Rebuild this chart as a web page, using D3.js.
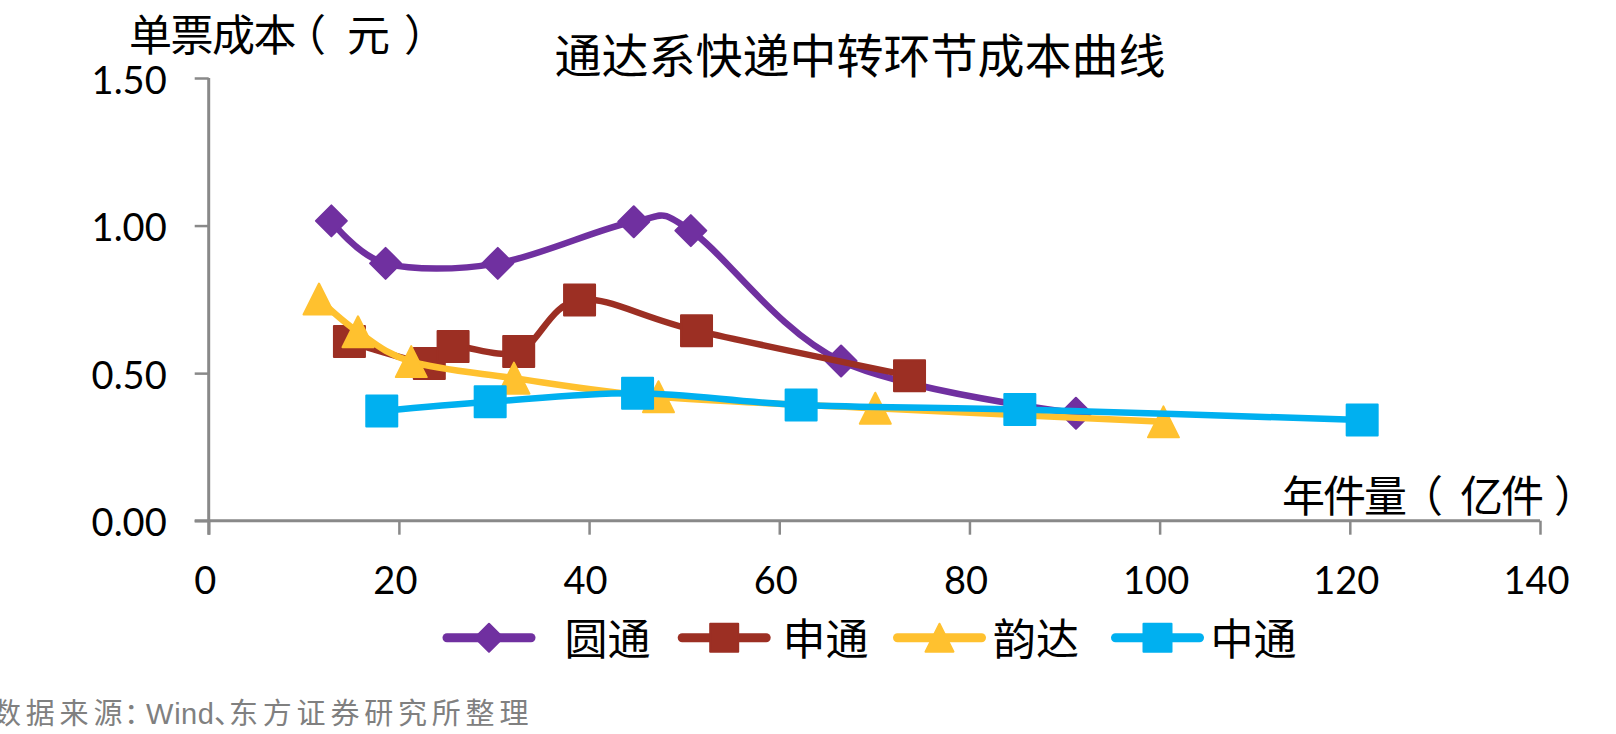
<!DOCTYPE html>
<html>
<head>
<meta charset="utf-8">
<script src="https://cdn.jsdelivr.net/npm/d3@7"></script>
<style>
  html, body { margin: 0; padding: 0; background: #fff; }
  svg { display: block; }
</style>
</head>
<body>
<svg id="chart" width="1616" height="734"></svg>
<script>
// ---- data ----
const seriesNames = ["圆通", "申通", "韵达", "中通"];
const ytoX = [12.9, 18.6, 30.4, 44.7, 50.7, 66.5, 91.2];
const ytoY = [1.016, 0.872, 0.872, 1.013, 0.983, 0.541, 0.364];
const stoX = [14.8, 23.2, 25.7, 32.6, 39.0, 51.3, 73.7];
const stoY = [0.607, 0.533, 0.590, 0.573, 0.748, 0.644, 0.491];
const ydX = [11.6, 15.7, 21.3, 32.1, 47.3, 70.1, 100.4];
const ydY = [0.751, 0.640, 0.539, 0.483, 0.420, 0.381, 0.335];
const ztoX = [18.2, 29.6, 45.1, 62.3, 85.3, 121.3];
const ztoY = [0.372, 0.403, 0.432, 0.392, 0.377, 0.341];
const xTicks = [0, 20, 40, 60, 80, 100, 120, 140];
const yTicks = [0, 0.5, 1.0, 1.5];

const colors = ["#7030A0", "#9C2F23", "#FFC12F", "#00B0F0"];
const shapes = ["diamond", "square", "triangle", "square"];

const series = [
  {name: seriesNames[0], xs: ytoX, ys: ytoY},
  {name: seriesNames[1], xs: stoX, ys: stoY},
  {name: seriesNames[2], xs: ydX, ys: ydY},
  {name: seriesNames[3], xs: ztoX, ys: ztoY}
].map((s, i) => ({...s, color: colors[i], shape: shapes[i],
  points: s.xs.map((x, j) => [x, s.ys[j]])}));

const svg = d3.select("#chart");
const x = d3.scaleLinear().domain([0, 140]).range([208.7, 1540]);
const y = d3.scaleLinear().domain([0, 1.5]).range([520.7, 78]);

const numFont = "Lato, 'Open Sans', sans-serif";
const cjkFont = "'Noto Sans CJK SC', 'Noto Sans', sans-serif";

// marker path, centered on 0,0
function marker(shape, s) {
  const h = s / 2;
  if (shape === "diamond") return `M0,${-h}L${h},0L0,${h}L${-h},0Z`;
  if (shape === "square") return `M${-h},${-h}H${h}V${h}H${-h}Z`;
  return `M0,${-h}L${h},${h}L${-h},${h}Z`;
}

// one text element with a position per character
function spacedText(str, xs, cy, size, family, fill) {
  return svg.append("text")
    .attr("x", xs.join(" ")).attr("y", cy)
    .attr("dominant-baseline", "central")
    .style("font-family", family).style("font-size", size + "px")
    .attr("fill", fill)
    .text(str);
}

// title
svg.append("text")
  .attr("x", 860).attr("y", 52.5)
  .attr("text-anchor", "middle").attr("dominant-baseline", "central")
  .style("font-family", cjkFont).style("font-size", "47px")
  .attr("fill", "#000")
  .text("通达系快递中转环节成本曲线");

// axes
const axisColor = "#898989";
const xAxis = svg.append("g").attr("transform", `translate(0,${y(0)})`)
  .call(d3.axisBottom(x).tickValues(xTicks).tickSize(14).tickPadding(30)
    .tickFormat(d3.format("d")));
const yAxis = svg.append("g").attr("transform", `translate(${x(0)},0)`)
  .call(d3.axisLeft(y).tickValues(yTicks).tickSize(14).tickPadding(28)
    .tickFormat(d3.format(".2f")));

[xAxis, yAxis].forEach(g => {
  g.select(".domain").attr("stroke", axisColor).attr("stroke-width", 3);
  g.selectAll(".tick line").attr("stroke", axisColor).attr("stroke-width", 2.5);
  g.selectAll(".tick text")
    .attr("fill", "#000")
    .style("font-family", numFont).style("font-size", "38px");
});
xAxis.select(".domain").attr("d", `M${x(0) - 14},0H${x(140)}`);
yAxis.select(".domain").attr("d", `M0,${y(1.5)}V${y(0) + 14}`);
xAxis.selectAll(".tick text").attr("dx", -4).attr("y", 0)
  .attr("dy", 0).attr("dominant-baseline", "central")
  .attr("transform", "translate(0,58)");
yAxis.selectAll(".tick text").attr("dy", 0).attr("dominant-baseline", "central");

// axis titles (parentheses spaced out like the original)
spacedText("单票成本（元）", [129, 170.5, 212, 253.5, 283, 347, 404], 31.7, 43, cjkFont, "#000");
spacedText("年件量（亿件）", [1282, 1323, 1364, 1400, 1460, 1501, 1554], 492.5, 43, cjkFont, "#000");

// series
const line = d3.line()
  .x(d => x(d[0])).y(d => y(d[1]))
  .curve(d3.curveCatmullRom.alpha(0));

const gs = svg.append("g").selectAll("g.series")
  .data(series).join("g").attr("class", "series");

gs.append("path")
  .attr("d", d => line(d.points))
  .attr("fill", "none")
  .attr("stroke", d => d.color)
  .attr("stroke-width", 6.5)
  .attr("stroke-linejoin", "round")
  .attr("stroke-linecap", "round");

gs.each(function(s) {
  d3.select(this).selectAll("path.mk")
    .data(s.points).join("path").attr("class", "mk")
    .attr("transform", d => `translate(${x(d[0])},${y(d[1])})`)
    .attr("d", marker(s.shape, 31))
    .attr("fill", s.color)
    .attr("stroke", s.color).attr("stroke-width", 2)
    .attr("stroke-linejoin", "round");
});

// legend
const legendLineX = [442.5, 677.7, 893, 1111];
const legendTextX = [564.5, 782.5, 993, 1210.5];
const legendY = 637.7;
const lg = svg.append("g").selectAll("g")
  .data(series).join("g");
lg.append("line")
  .attr("x1", (d, i) => legendLineX[i] + 4.5)
  .attr("x2", (d, i) => legendLineX[i] + 93 - 4.5)
  .attr("y1", legendY).attr("y2", legendY)
  .attr("stroke", d => d.color).attr("stroke-width", 9)
  .attr("stroke-linecap", "round");
lg.append("path")
  .attr("transform", (d, i) => `translate(${legendLineX[i] + 46.5},${legendY})`)
  .attr("d", d => marker(d.shape, 28))
  .attr("fill", d => d.color)
  .attr("stroke", d => d.color).attr("stroke-width", 2)
  .attr("stroke-linejoin", "round");
lg.append("text")
  .attr("x", (d, i) => legendTextX[i]).attr("y", 636)
  .attr("dominant-baseline", "central")
  .style("font-family", cjkFont).style("font-size", "43px")
  .text(d => d.name);

// source note: CJK runs at a fixed pitch, "Wind" in a Latin face
const pitch = 33.8;
const noteX = [];
for (let i = 0; i < 4; i++) noteX.push(-8 + i * pitch);   // 数据来源
noteX.push(124);                                          // ：
noteX.push(146, 174.3, 181, 197.7);                       // W i n d
noteX.push(214);                                          // 、
for (let i = 0; i < 9; i++) noteX.push(229 + i * pitch);  // 东方证券研究所整理
spacedText("数据来源：Wind、东方证券研究所整理", noteX, 714, 29,
  "'Liberation Sans', 'Noto Sans CJK SC', sans-serif", "#808080");
</script>
</body>
</html>
